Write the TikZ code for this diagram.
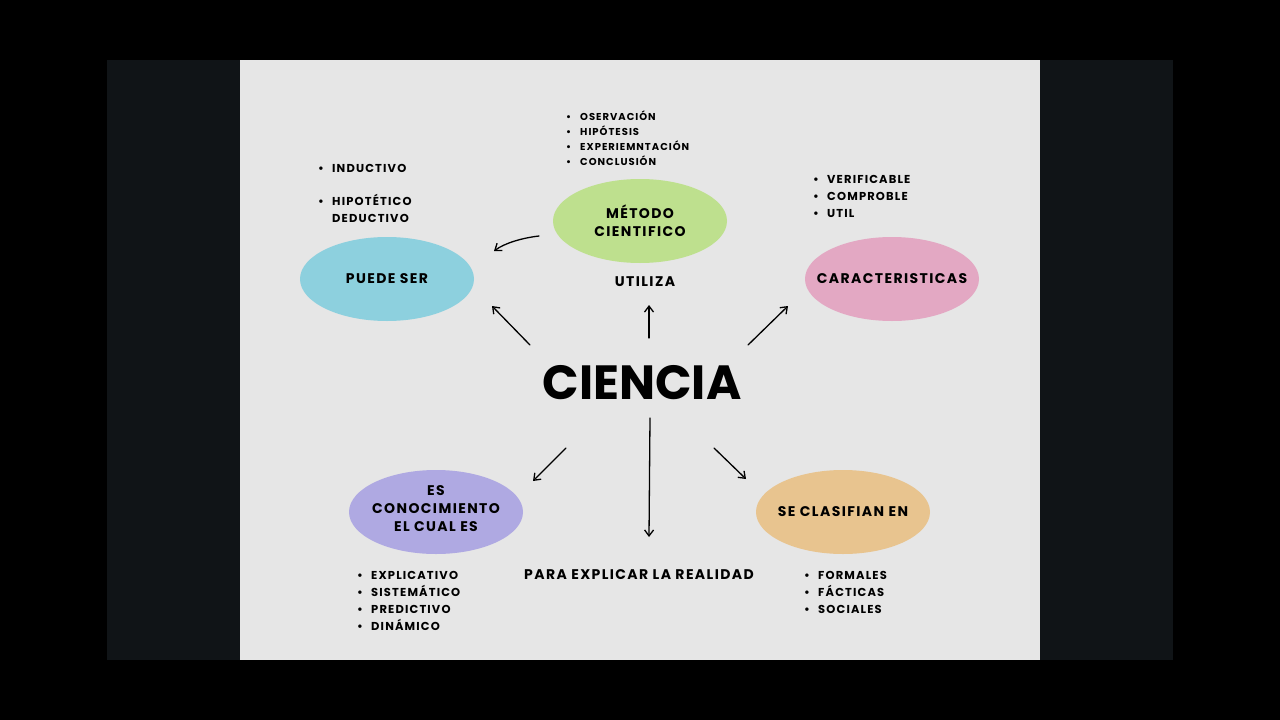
\documentclass[tikz,border=0pt]{standalone}
\usepackage{fontspec}
\setmainfont{Poppins}[LetterSpace=10]
\newfontfamily\bigf{Poppins}
\usetikzlibrary{arrows.meta,shapes.geometric}
\definecolor{slide}{HTML}{E6E6E6}
\definecolor{panel}{HTML}{101417}
\definecolor{cgreen}{HTML}{BEE08E}
\definecolor{cblue}{HTML}{8DD0DE}
\definecolor{cpink}{HTML}{E3A8C3}
\definecolor{cviolet}{HTML}{AFA9E2}
\definecolor{ctan}{HTML}{E8C48F}
\newcommand{\bl}{\makebox[14pt][l]{\textbullet}}
\tikzset{
  oval/.style={ellipse, minimum width=174pt, minimum height=84pt, inner sep=0pt},
  ovaltext/.style={inner sep=0pt, align=center, font=\bfseries\fontsize{14}{18}\selectfont},
  lst/.style={anchor=north west, align=left, inner sep=0pt, font=\bfseries\fontsize{11.5}{17}\selectfont},
  lbl/.style={inner sep=0pt, font=\bfseries\fontsize{14}{16}\selectfont},
  arr/.style={-{Straight Barb[length=6pt,width=9pt]}, line width=1.3pt, line cap=round}
}
\begin{document}
\begin{tikzpicture}[x=1pt,y=-1pt]
\fill[black] (0,0) rectangle (1280,720);
\fill[panel] (107,60) rectangle (1173,660);
\fill[slide] (240,60) rectangle (1040,660);
\useasboundingbox (0,0) rectangle (1280,720);

\node[oval, fill=cgreen] (met) at (640,221) {};
\node[ovaltext] (metT) at (met.center) {MÉTODO\\CIENTIFICO};
\node[oval, fill=cblue] (pue) at (387,279) {};
\node[ovaltext] (pueT) at (pue.center) {PUEDE SER};
\node[oval, fill=cpink] (car) at (892,279) {};
\node[ovaltext] (carT) at (car.center) {CARACTERISTICAS};
\node[oval, fill=cviolet] (con) at (436,512) {};
\node[ovaltext] (conT) at (436,509) {ES\\CONOCIMIENTO\\EL CUAL ES};
\node[oval, fill=ctan] (cla) at (843,512) {};
\node[ovaltext] (claT) at (cla.center) {SE CLASIFIAN EN};

\node[inner sep=0pt, font=\bigf\bfseries\fontsize{48}{48}\selectfont] (cie) at (642,383) {CIENCIA};

\node[lbl] (uti) at (645,282) {UTILIZA};
\node[lbl] (par) at (639,575) {PARA EXPLICAR LA REALIDAD};

\node[lst, font=\bfseries\fontsize{10}{15}\selectfont] (l1) at (566,111) {\bl OSERVACIÓN\\\bl HIPÓTESIS\\\bl EXPERIEMNTACIÓN\\\bl CONCLUSIÓN};
\node[lst] (l2) at (318,164) {\bl INDUCTIVO\\[16pt]\bl HIPOTÉTICO\\\hspace*{14pt}DEDUCTIVO};
\node[lst] (l3) at (813,175) {\bl VERIFICABLE\\\bl COMPROBLE\\\bl UTIL};
\node[lst] (l4) at (357,571) {\bl EXPLICATIVO\\\bl SISTEMÁTICO\\\bl PREDICTIVO\\\bl DINÁMICO};
\node[lst] (l5) at (804,571) {\bl FORMALES\\\bl FÁCTICAS\\\bl SOCIALES};

\coordinate (a1s) at (530,345); \coordinate (a1e) at (492,306);
\coordinate (a2s) at (649,338); \coordinate (a2e) at (649,305);
\coordinate (a3s) at (748,345); \coordinate (a3e) at (788,306);
\coordinate (a4s) at (566,448); \coordinate (a4e) at (533,481);
\coordinate (a5s) at (650,418); \coordinate (a5e) at (649,537);
\coordinate (a6s) at (714,448); \coordinate (a6e) at (746,479);
\coordinate (c1s) at (539,236); \coordinate (c1e) at (494,251);
\draw[arr] (a1s) -- (a1e);
\draw[arr] (a2s) -- (a2e);
\draw[arr] (a3s) -- (a3e);
\draw[arr] (a4s) -- (a4e);
\draw[arr] (a5s) -- (a5e);
\draw[arr] (a6s) -- (a6e);
\draw[arr] (c1s) .. controls (522,238) and (505,243) .. (c1e);
\end{tikzpicture}
\end{document}
